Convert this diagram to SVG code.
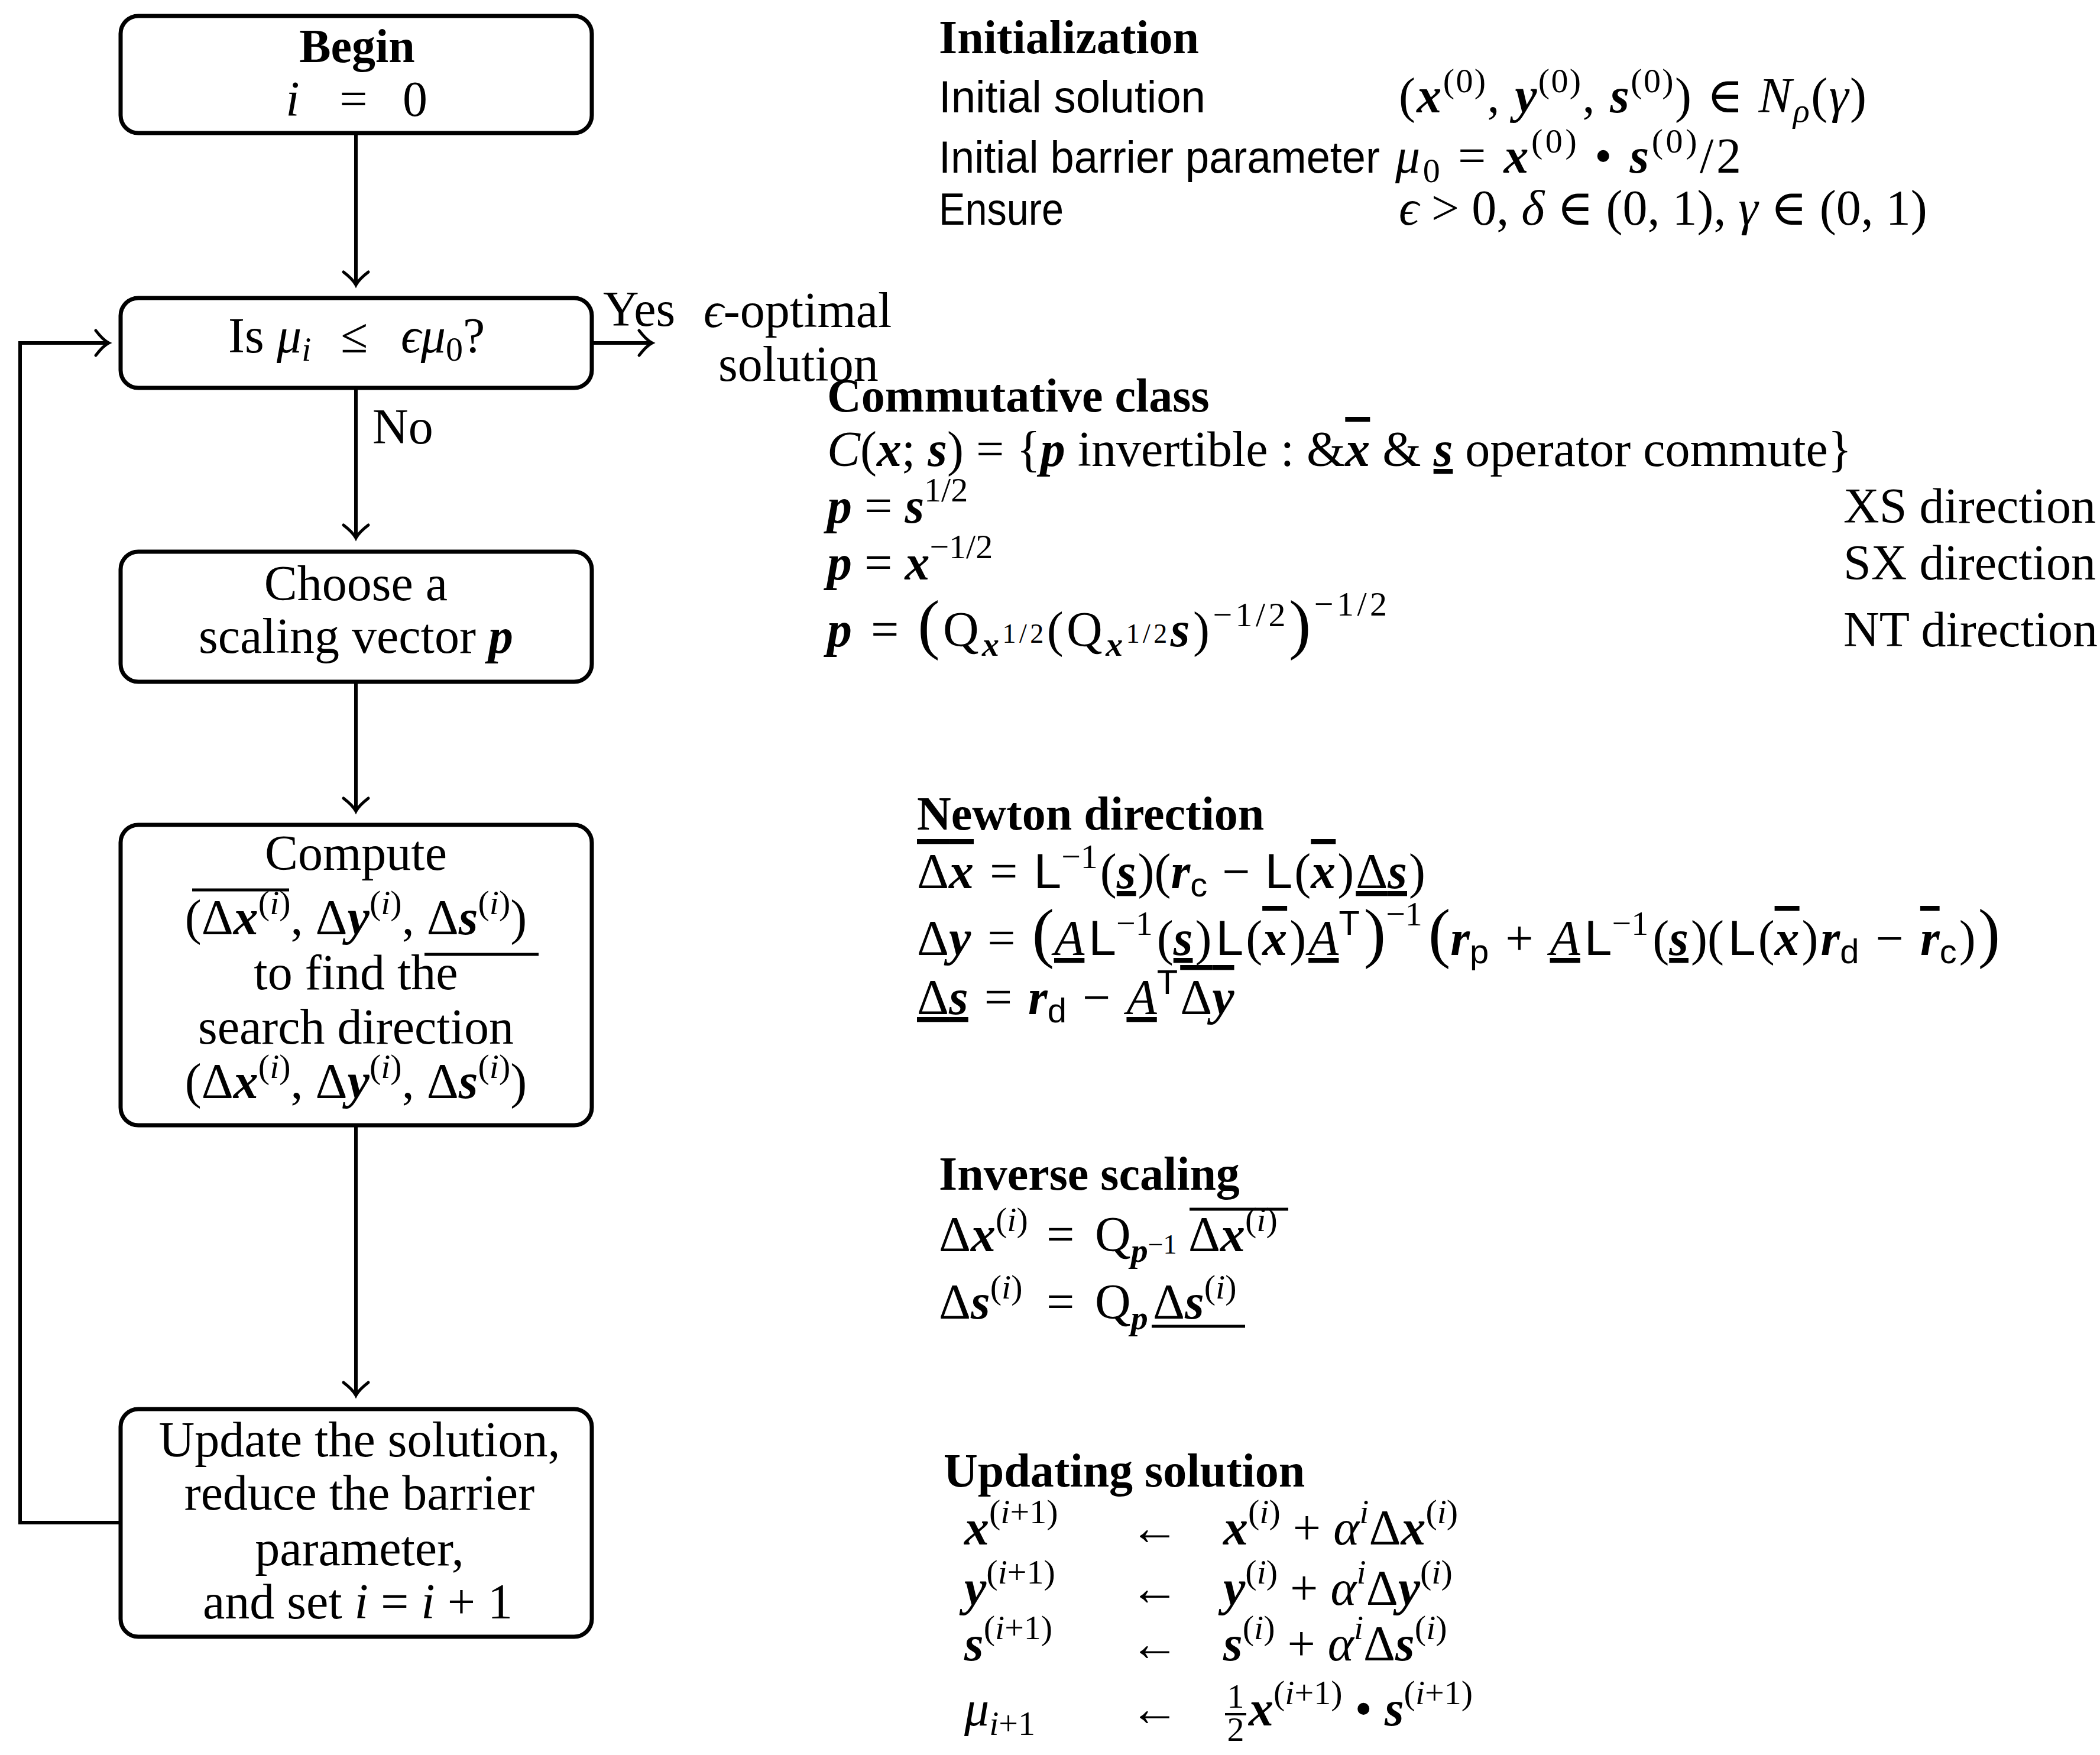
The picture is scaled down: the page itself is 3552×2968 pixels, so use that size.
<svg xmlns="http://www.w3.org/2000/svg" width="3552" height="2968" viewBox="0 0 3552 2968">
<style>
.f { font-family: "Liberation Serif", "DejaVu Serif", serif; fill: #000; }
.t { font-size: 84px; }
.h { font-size: 80px; font-weight: bold; }
.sf { font-family: "Liberation Sans", "DejaVu Sans", sans-serif; }
.i { font-style: italic; }
.v { font-style: italic; font-weight: bold; }
.s { font-size: 58px; }
.ss { font-size: 46px; }
.bp { font-size: 112px; }
.mid { text-anchor: middle; }
.box { fill: #fff; stroke: #000; stroke-width: 7; }
.ln { stroke: #000; stroke-width: 6; fill: none; }
.bar { stroke: #000; stroke-width: 5; }
</style>
<defs>
<marker id="arr" markerUnits="userSpaceOnUse" markerWidth="60" markerHeight="60" viewBox="-30 -30 60 60" refX="0" refY="0" orient="auto" overflow="visible">
<path d="M-22,-21 C-12,-8 -4,-2 0,0 C-4,2 -12,8 -22,21" fill="none" stroke="#000" stroke-width="5" stroke-linecap="round"/>
</marker>
</defs>
<rect width="3552" height="2968" fill="#fff"/>

<g id="connectors">
<path class="ln" d="M602,225 V482" marker-end="url(#arr)"/>
<path class="ln" d="M1000,580 H1103" marker-end="url(#arr)"/>
<path class="ln" d="M602,656 V910" marker-end="url(#arr)"/>
<path class="ln" d="M602,1153 V1372" marker-end="url(#arr)"/>
<path class="ln" d="M602,1903 V2360" marker-end="url(#arr)"/>
<path class="ln" d="M204,2575 H34 V580 H184" marker-end="url(#arr)"/>
<text class="f t" x="1020" y="551">Yes</text>
<text class="f t" x="630" y="750">No</text>
</g>

<g id="begin">
<rect class="box" x="204" y="27" width="797" height="198" rx="30"/>
<text class="f h mid" x="604" y="105">Begin</text>
<text class="f t mid" y="196"><tspan x="495" class="i">i</tspan><tspan x="598">=</tspan><tspan x="702">0</tspan></text>
</g>

<g id="check">
<rect class="box" x="204" y="504" width="797" height="152" rx="30"/>
<text class="f t" y="596"><tspan x="386">Is</tspan><tspan x="468" class="i">μ</tspan><tspan class="s i" dy="14">i</tspan><tspan x="576" dy="-14">≤</tspan><tspan x="678" class="i">ϵ</tspan><tspan class="i">μ</tspan><tspan class="s" dy="14">0</tspan><tspan dy="-14">?</tspan></text>
</g>

<g id="optimal">
<text class="f t" x="1190" y="553"><tspan class="i">ϵ</tspan>-optimal</text>
<text class="f t" x="1215" y="644">solution</text>
</g>

<g id="choose">
<rect class="box" x="204" y="933" width="797" height="220" rx="30"/>
<text class="f t mid" x="602" y="1015">Choose a</text>
<text class="f t mid" x="602" y="1104">scaling vector <tspan class="v">p</tspan></text>
</g>

<g id="compute">
<rect class="box" x="204" y="1395" width="797" height="508" rx="30"/>
<text class="f t mid" x="602" y="1471">Compute</text>
<text class="f t mid" x="602" y="1580">(Δ<tspan class="v">x</tspan><tspan class="s" dy="-34">(<tspan class="i">i</tspan>)</tspan><tspan dy="34">, Δ</tspan><tspan class="v">y</tspan><tspan class="s" dy="-34">(<tspan class="i">i</tspan>)</tspan><tspan dy="34">, Δ</tspan><tspan class="v">s</tspan><tspan class="s" dy="-34">(<tspan class="i">i</tspan>)</tspan><tspan dy="34">)</tspan></text>
<line class="bar" x1="325" y1="1505" x2="489" y2="1505"/>
<line class="bar" x1="718" y1="1614" x2="911" y2="1614"/>
<text class="f t mid" x="602" y="1673">to find the</text>
<text class="f t mid" x="602" y="1765">search direction</text>
<text class="f t mid" x="602" y="1857">(Δ<tspan class="v">x</tspan><tspan class="s" dy="-34">(<tspan class="i">i</tspan>)</tspan><tspan dy="34">, Δ</tspan><tspan class="v">y</tspan><tspan class="s" dy="-34">(<tspan class="i">i</tspan>)</tspan><tspan dy="34">, Δ</tspan><tspan class="v">s</tspan><tspan class="s" dy="-34">(<tspan class="i">i</tspan>)</tspan><tspan dy="34">)</tspan></text>
</g>

<g id="update">
<rect class="box" x="204" y="2383" width="797" height="385" rx="30"/>
<text class="f t mid" x="608" y="2463">Update the solution,</text>
<text class="f t mid" x="608" y="2553">reduce the barrier</text>
<text class="f t mid" x="608" y="2647">parameter,</text>
<text class="f t mid" x="605" y="2737">and set <tspan class="i">i</tspan> = <tspan class="i">i</tspan> + 1</text>
</g>

<g id="init">
<text class="f h" x="1588" y="90">Initialization</text>
<text class="sf" font-size="76" x="1588" y="190" textLength="451" lengthAdjust="spacingAndGlyphs">Initial solution</text>
<text class="sf" font-size="76" x="1588" y="292" textLength="746" lengthAdjust="spacingAndGlyphs">Initial barrier parameter</text>
<text class="sf" font-size="76" x="1588" y="380" textLength="211" lengthAdjust="spacingAndGlyphs">Ensure</text>
<text class="f t" x="2366" y="190" textLength="791">(<tspan class="v">x</tspan><tspan class="s" dy="-34">(0)</tspan><tspan dy="34">, </tspan><tspan class="v">y</tspan><tspan class="s" dy="-34">(0)</tspan><tspan dy="34">, </tspan><tspan class="v">s</tspan><tspan class="s" dy="-34">(0)</tspan><tspan dy="34">) ∈ </tspan><tspan class="i">N</tspan><tspan class="s i" dy="16">ρ</tspan><tspan dy="-16">(</tspan><tspan class="i">γ</tspan>)</text>
<text class="f t" x="2360" y="292" textLength="585"><tspan class="i">μ</tspan><tspan class="s" dy="16">0</tspan><tspan dy="-16"> = </tspan><tspan class="v">x</tspan><tspan class="s" dy="-34">(0)</tspan><tspan dy="34"> • </tspan><tspan class="v">s</tspan><tspan class="s" dy="-34">(0)</tspan><tspan dy="34">/2</tspan></text>
<text class="f t" x="2366" y="380"><tspan class="i">ϵ</tspan> &gt; 0, <tspan class="i">δ</tspan> ∈ (0, 1), <tspan class="i">γ</tspan> ∈ (0, 1)</text>
</g>

<g id="commutative">
<text class="f h" x="1399" y="696">Commutative class</text>
<text class="f t" x="1399" y="788"><tspan class="i">C</tspan>(<tspan class="v">x</tspan>; <tspan class="v">s</tspan>) = {<tspan class="v">p</tspan> invertible : &amp;<tspan class="v" text-decoration="overline">x</tspan> &amp; <tspan class="v" text-decoration="underline">s</tspan> operator commute}</text>
<text class="f t" x="1399" y="884"><tspan class="v">p</tspan> = <tspan class="v">s</tspan><tspan class="s" dy="-36">1/2</tspan></text>
<text class="f t" x="1399" y="980"><tspan class="v">p</tspan> = <tspan class="v">x</tspan><tspan class="s" dy="-36">−1/2</tspan></text>
<text class="f t" x="1399" y="1093" textLength="947"><tspan class="v">p</tspan> = <tspan class="bp">(</tspan>Q<tspan class="v s" dy="16">x</tspan><tspan class="ss" dy="-22">1/2</tspan><tspan dy="6">(</tspan>Q<tspan class="v s" dy="16">x</tspan><tspan class="ss" dy="-22">1/2</tspan><tspan class="v" dy="6">s</tspan>)<tspan class="s" dy="-34">−1/2</tspan><tspan class="bp" dy="34">)</tspan><tspan class="s" dy="-52">−1/2</tspan></text>
<text class="f t" x="3118" y="884">XS direction</text>
<text class="f t" x="3118" y="980">SX direction</text>
<text class="f t" x="3118" y="1093">NT direction</text>
</g>

<g id="newton">
<text class="f h" x="1551" y="1403">Newton direction</text>
<text class="f t" x="1551" y="1502"><tspan text-decoration="overline">Δ<tspan class="v">x</tspan></tspan><tspan dx="6"> = </tspan><tspan class="sf" dx="6">L</tspan><tspan class="s" dy="-34">−1</tspan><tspan dy="34" dx="4">(</tspan><tspan class="v" text-decoration="underline">s</tspan><tspan dx="3">)(</tspan><tspan class="v">r</tspan><tspan class="s sf" dy="14">c</tspan><tspan dy="-14" dx="4"> − </tspan><tspan class="sf" dx="4">L</tspan><tspan dx="3">(</tspan><tspan class="v" text-decoration="overline">x</tspan><tspan dx="3">)</tspan><tspan text-decoration="underline" dx="3">Δ<tspan class="v">s</tspan></tspan><tspan dx="3">)</tspan></text>
<text class="f t" x="1551" y="1615">Δ<tspan class="v">y</tspan><tspan dx="7"> = </tspan><tspan class="bp" dx="7">(</tspan><tspan class="i" text-decoration="underline">A</tspan><tspan class="sf" dx="7">L</tspan><tspan class="s" dy="-34">−1</tspan><tspan dy="34" dx="7">(</tspan><tspan class="v" text-decoration="underline">s</tspan><tspan dx="4">)</tspan><tspan class="sf" dx="7">L</tspan><tspan dx="4">(</tspan><tspan class="v" text-decoration="overline">x</tspan><tspan dx="4">)</tspan><tspan class="i" text-decoration="underline" dx="4">A</tspan><tspan class="s sf" dy="-34">T</tspan><tspan class="bp" dy="34" dx="7">)</tspan><tspan class="s" dy="-50">−1</tspan><tspan class="bp" dy="50" dx="10">(</tspan><tspan class="v">r</tspan><tspan class="s sf" dy="14">p</tspan><tspan dy="-14" dx="7"> + </tspan><tspan class="i" text-decoration="underline" dx="7">A</tspan><tspan class="sf" dx="7">L</tspan><tspan class="s" dy="-34">−1</tspan><tspan dy="34" dx="7">(</tspan><tspan class="v" text-decoration="underline">s</tspan><tspan dx="4">)(</tspan><tspan class="sf" dx="7">L</tspan><tspan dx="4">(</tspan><tspan class="v" text-decoration="overline">x</tspan><tspan dx="4">)</tspan><tspan class="v" dx="4">r</tspan><tspan class="s sf" dy="14">d</tspan><tspan dy="-14" dx="7"> − </tspan><tspan class="v" text-decoration="overline" dx="7">r</tspan><tspan class="s sf" dy="14">c</tspan><tspan dy="-14" dx="4">)</tspan><tspan class="bp" dx="4">)</tspan></text>
<text class="f t" x="1551" y="1715"><tspan text-decoration="underline">Δ<tspan class="v">s</tspan></tspan><tspan dx="6"> = </tspan><tspan class="v" dx="6">r</tspan><tspan class="s sf" dy="14">d</tspan><tspan dy="-14" dx="6"> − </tspan><tspan class="i" text-decoration="underline" dx="6">A</tspan><tspan class="s sf" dy="-34">T</tspan><tspan dy="34" dx="4" text-decoration="overline">Δ<tspan class="v">y</tspan></tspan></text>
</g>

<g id="inverse">
<text class="f h" x="1588" y="2012">Inverse scaling</text>
<text class="f t" y="2116"><tspan x="1588">Δ</tspan><tspan class="v">x</tspan><tspan class="s" dy="-34">(<tspan class="i">i</tspan>)</tspan><tspan x="1770" dy="34">=</tspan><tspan x="1852">Q</tspan><tspan class="v s" dy="18">p</tspan><tspan class="ss" dy="-14">−1</tspan><tspan x="2010" dy="-4">Δ</tspan><tspan class="v">x</tspan><tspan class="s" dy="-34">(<tspan class="i">i</tspan>)</tspan></text>
<line class="bar" x1="2012" y1="2045" x2="2179" y2="2045"/>
<text class="f t" y="2230"><tspan x="1588">Δ</tspan><tspan class="v">s</tspan><tspan class="s" dy="-34">(<tspan class="i">i</tspan>)</tspan><tspan x="1770" dy="34">=</tspan><tspan x="1852">Q</tspan><tspan class="v s" dy="18">p</tspan><tspan x="1950" dy="-18">Δ</tspan><tspan class="v">s</tspan><tspan class="s" dy="-34">(<tspan class="i">i</tspan>)</tspan></text>
<line class="bar" x1="1948" y1="2243" x2="2106" y2="2243"/>
</g>

<g id="updating">
<text class="f h" x="1596" y="2514">Updating solution</text>
<text class="f t" y="2612"><tspan x="1631" class="v">x</tspan><tspan class="s" dy="-36">(<tspan class="i">i</tspan>+1)</tspan><tspan x="1911" dy="36">←</tspan><tspan x="2069" class="v">x</tspan><tspan class="s" dy="-36">(<tspan class="i">i</tspan>)</tspan><tspan dy="36"> + </tspan><tspan class="i">α</tspan><tspan class="s i" dy="-36">i</tspan><tspan dy="36">Δ</tspan><tspan class="v">x</tspan><tspan class="s" dy="-36">(<tspan class="i">i</tspan>)</tspan></text>
<text class="f t" y="2714"><tspan x="1631" class="v">y</tspan><tspan class="s" dy="-36">(<tspan class="i">i</tspan>+1)</tspan><tspan x="1911" dy="36">←</tspan><tspan x="2069" class="v">y</tspan><tspan class="s" dy="-36">(<tspan class="i">i</tspan>)</tspan><tspan dy="36"> + </tspan><tspan class="i">α</tspan><tspan class="s i" dy="-36">i</tspan><tspan dy="36">Δ</tspan><tspan class="v">y</tspan><tspan class="s" dy="-36">(<tspan class="i">i</tspan>)</tspan></text>
<text class="f t" y="2808"><tspan x="1631" class="v">s</tspan><tspan class="s" dy="-36">(<tspan class="i">i</tspan>+1)</tspan><tspan x="1911" dy="36">←</tspan><tspan x="2069" class="v">s</tspan><tspan class="s" dy="-36">(<tspan class="i">i</tspan>)</tspan><tspan dy="36"> + </tspan><tspan class="i">α</tspan><tspan class="s i" dy="-36">i</tspan><tspan dy="36">Δ</tspan><tspan class="v">s</tspan><tspan class="s" dy="-36">(<tspan class="i">i</tspan>)</tspan></text>
<text class="f t" y="2918"><tspan x="1631" class="i">μ</tspan><tspan class="s" dy="16"><tspan class="i">i</tspan>+1</tspan><tspan x="1911" dy="-16">←</tspan><tspan x="2112" class="v">x</tspan><tspan class="s" dy="-36">(<tspan class="i">i</tspan>+1)</tspan><tspan dy="36"> • </tspan><tspan class="v">s</tspan><tspan class="s" dy="-36">(<tspan class="i">i</tspan>+1)</tspan></text>
<text class="f s mid" x="2090" y="2888">1</text>
<line x1="2072" y1="2899" x2="2108" y2="2899" stroke="#000" stroke-width="4"/>
<text class="f s mid" x="2090" y="2944">2</text>
</g>
</svg>
